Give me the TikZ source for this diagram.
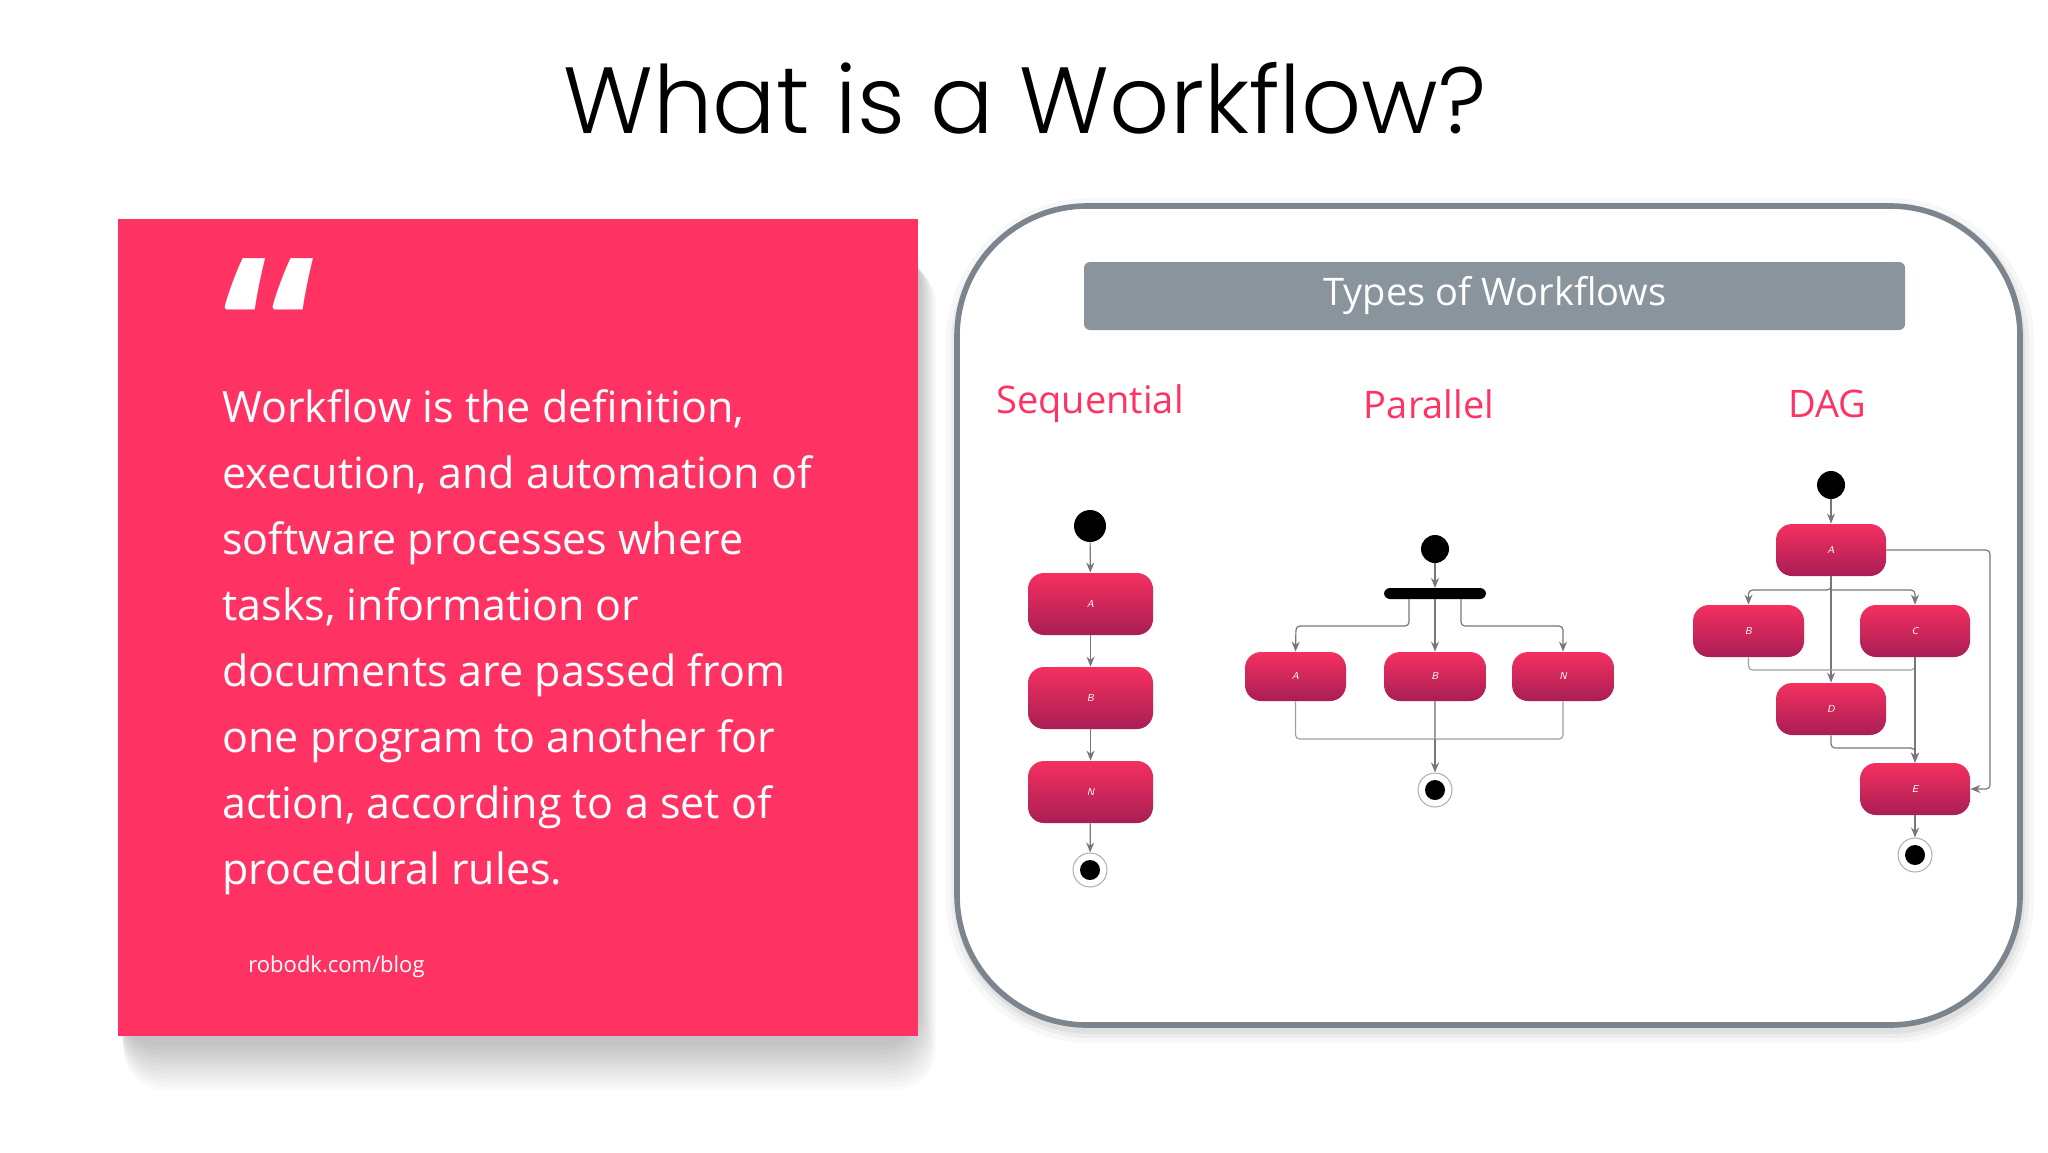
\documentclass[tikz,border=0pt]{standalone}
\usepackage{fontspec}
\setmainfont{Open Sans}
\newfontfamily\popp{Poppins}[UprightFont={* Light}]
\usetikzlibrary{arrows.meta}
\definecolor{pinkbg}{HTML}{FF3363}
\definecolor{bartop}{HTML}{F5305F}
\definecolor{barbot}{HTML}{A81E55}
\definecolor{headgray}{HTML}{8A949C}
\definecolor{linegray}{HTML}{777777}
\tikzset{
 taskbox/.style={rounded corners=8pt, top color=bartop, bottom color=barbot, draw=none},
 tasklabel/.style={text=white, font=\sffamily\itshape\fontsize{5}{6}\selectfont},
 conn/.style={draw=linegray, line width=0.6pt, -{Stealth[length=5pt,width=4pt]}},
 plain/.style={draw=linegray!70, line width=0.6pt},
 startdot/.style={circle, fill=black, inner sep=0pt},
 kind/.style={text=pinkbg, font=\fontsize{19}{22}\selectfont},
}
\newcommand{\tbox}[6]{% name, x1,y1,x2,y2,label
 \path[taskbox] (#2,#3) rectangle (#4,#5);
 \node[tasklabel, minimum width={(#4-#2)*0.5pt}, minimum height={(#5-#3)*0.5pt}, inner sep=0pt] (#1) at ({(#2+#4)/2},{(#3+#5)/2}) {#6};}
\newcommand{\finaldot}[3]{% name,x,y
 \node[circle, draw=linegray!60, fill=white, minimum size=17pt, inner sep=0pt, line width=0.5pt] (#1) at (#2,#3) {};
 \fill[black] (#2,#3) circle (5pt);}
\begin{document}
\begin{tikzpicture}[x=0.5pt,y=-0.5pt]
\useasboundingbox[fill=white] (0,0) rectangle (2048,1152);
% title
\node[font=\popp\fontsize{47}{56}\selectfont, text=black] (title) at (1025,98) {What is a Workflow?};
% pink card shadow
\foreach \i in {1,...,12}{
 \fill[black, opacity=0.018, rounded corners=20pt] (118+\i*0.5,240+\i*2) rectangle (918+\i*1.5,1036+\i*4+6);}
\fill[pinkbg] (118,219) rectangle (918,1036);
\node[text=white, font=\bfseries\fontsize{105}{105}\selectfont, anchor=base west, inner sep=0pt] (quote) at (222,314) {\raisebox{-0.45em}[0.28em][0pt]{\textquotedblleft}};
\node[text=white, anchor=north west, align=left, font=\fontsize{21.5}{33}\selectfont, inner sep=0pt] (body) at (222,389) {Workflow is the definition,\\execution, and automation of\\software processes where\\tasks, information or\\documents are passed from\\one program to another for\\action, according to a set of\\procedural rules.};
\node[text=white, anchor=west, font=\fontsize{11}{12}\selectfont, inner sep=0pt] (url) at (248,967) {robodk.com/blog};
% right panel
\foreach \i/\o in {14/0.03,9/0.04,5/0.05}{
 \draw[black, opacity=\o, line width=\i pt, rounded corners=65pt] (960,212) rectangle (2020,1029);}
\draw[headgray!90!black, line width=2.8pt, fill=white, rounded corners=65pt] (957,206) rectangle (2020,1025);
\fill[headgray, rounded corners=3pt] (1084,262) rectangle (1905,330);
\node[text=white, font=\fontsize{19}{22}\selectfont] (types) at (1495,296) {Types of Workflows};
\node[kind] (seq) at (1090,404) {Sequential};
\node[kind] (par) at (1429,404) {Parallel};
\node[kind] (dag) at (1827,404) {DAG};
% Sequential
\node[startdot, minimum size=16pt] (s0) at (1090,526) {};
\tbox{sa}{1028}{573}{1153}{635}{A}
\tbox{sb}{1028}{667}{1153}{729}{B}
\tbox{sn}{1028}{761}{1153}{823}{N}
\finaldot{se}{1090}{870}
\draw[conn] (s0) -- (sa);
\draw[conn] (sa) -- (sb);
\draw[conn] (sb) -- (sn);
\draw[conn] (sn) -- (se);
% Parallel
\node[startdot, minimum size=14pt] (p0) at (1435,549) {};
\fill[black, rounded corners=3pt] (1384,588) rectangle (1486,599);
\coordinate (pbar) at (1435,588);
\tbox{pa}{1245}{652}{1346}{701}{A}
\tbox{pb}{1384}{652}{1486}{701}{B}
\tbox{pn}{1512}{652}{1614}{701}{N}
\finaldot{pe}{1435}{790}
\draw[conn] (p0) -- (pbar);
\draw[conn, rounded corners=2pt] (1409,599) |- (1296,626) -- (pa.north);
\draw[conn] (1435,599) -- (pb.north);
\draw[conn, rounded corners=2pt] (1461,599) |- (1563,626) -- (pn.north);
\draw[plain, rounded corners=2pt] (pa.south) |- (1435,739) -| (pn.south);
\draw[plain] (pb.south) -- (1435,739);
\draw[conn] (1435,739) -- (pe);
% DAG
\node[startdot, minimum size=14pt] (d0) at (1831,485) {};
\tbox{da}{1776}{524}{1886}{576}{A}
\tbox{db}{1693}{605}{1804}{657}{B}
\tbox{dc}{1860}{605}{1970}{657}{C}
\tbox{dd}{1776}{683}{1886}{735}{D}
\tbox{de}{1860}{763}{1970}{815}{E}
\finaldot{dend}{1915}{855}
\draw[conn] (d0) -- (da);
\draw[conn, rounded corners=2pt] (da.south) -- (1831,590) -| (db.north);
\draw[conn, rounded corners=2pt] (1831,590) -| (dc.north);
\draw[conn] (da.south) -- (dd.north);
\draw[plain, rounded corners=2pt] (db.south) |- (1831,670) -| (dc.south);
\draw[conn] (dc.south) -- (de.north);
\draw[conn, rounded corners=2pt] (dd.south) |- (1915,748) -- (de.north);
\draw[conn, rounded corners=2pt] (da.east) -- (1990,550) |- (de.east);
\draw[conn] (de) -- (dend);
\end{tikzpicture}
\end{document}
